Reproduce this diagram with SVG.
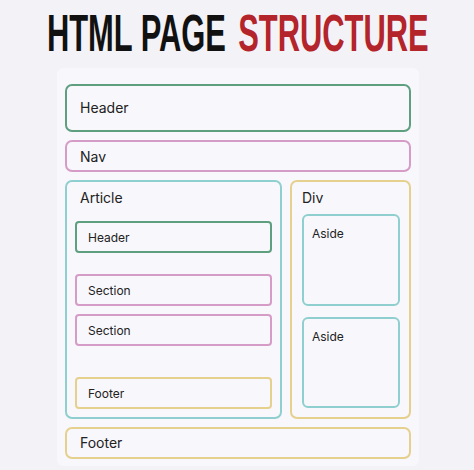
<svg xmlns="http://www.w3.org/2000/svg" width="474" height="470" viewBox="0 0 474 470">
<style>
.box{fill:#f8f7fc;stroke-width:2}
.g{stroke:#5e9f7f}
.p{stroke:#d69cc8}
.t{stroke:#8fcfd0}
.y{stroke:#e6d08e}
.lbl{font-family:Inter,"Noto Sans",sans-serif;fill:#222;font-size:14px}
.sm{font-size:12px}
.title{font-family:"Liberation Sans",Arial,sans-serif;font-weight:bold;font-size:52px}
</style>
<rect width="474" height="470" fill="#f3f2f7"/>
<rect x="57" y="68" width="362" height="398" rx="6" fill="#f8f7fb"/>
<g transform="scale(0.594,1)">
<text class="title" x="79" y="51" fill="#111">HTML PAGE</text>
<text class="title" x="401" y="51" fill="#b3242b">STRUCTURE</text>
</g>
<g id="header"><rect class="box g" x="66" y="85" width="344" height="46" rx="6"/><text class="lbl" x="80" y="113">Header</text></g>
<g id="nav"><rect class="box p" x="66" y="141" width="344" height="30" rx="6"/><text class="lbl" x="80" y="162">Nav</text></g>
<g id="article"><rect class="box t" x="66" y="181" width="215" height="237" rx="6"/><text class="lbl" x="80" y="203">Article</text>
<g id="article-header"><rect class="box g" x="76" y="222" width="195" height="30" rx="3"/><text class="lbl sm" x="88" y="242">Header</text></g>
<g id="section1"><rect class="box p" x="76" y="275" width="195" height="30" rx="3"/><text class="lbl sm" x="88" y="295">Section</text></g>
<g id="section2"><rect class="box p" x="76" y="315" width="195" height="30" rx="3"/><text class="lbl sm" x="88" y="335">Section</text></g>
<g id="article-footer"><rect class="box y" x="76" y="378" width="195" height="30" rx="3"/><text class="lbl sm" x="88" y="398">Footer</text></g>
</g>
<g id="div"><rect class="box y" x="291" y="181" width="119" height="237" rx="6"/><text class="lbl" x="302" y="203">Div</text>
<g id="aside1"><rect class="box t" x="303" y="215" width="96" height="90" rx="5"/><text class="lbl sm" x="312" y="238">Aside</text></g>
<g id="aside2"><rect class="box t" x="303" y="318" width="96" height="89" rx="5"/><text class="lbl sm" x="312" y="341">Aside</text></g>
</g>
<g id="footer"><rect class="box y" x="66" y="428" width="344" height="30" rx="6"/><text class="lbl" x="80" y="448">Footer</text></g>
<g id="connectors"/>
</svg>
